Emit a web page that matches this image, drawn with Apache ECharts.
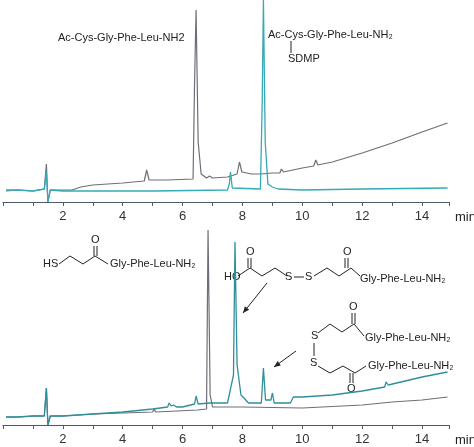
<!DOCTYPE html>
<html><head><meta charset="utf-8">
<script src="https://cdn.jsdelivr.net/npm/echarts@6/dist/echarts.min.js"></script>
<style>html,body{margin:0;background:#fff}#c{width:474px;height:447px}</style>
</head><body><div id="c"></div>
<script>
// top panel traces (time in min, signal in arbitrary units)
var topGrayT = [0.1,0.5,1.0,1.38,1.45,1.5,1.58,2,2.3,2.6,3,4,4.72,4.8,4.88,5.5,6.35,6.4,6.45,6.52,6.62,6.8,6.9,7,7.5,7.82,7.9,7.98,8.3,8.6,9,9.25,9.3,9.37,10,10.38,10.45,10.52,11,12,13,14,14.85];
var topGrayV = [11,12,11,13,38,0,12,12,12,15,17,19,21,32,22,22,23,120,192,60,28,24,26,24,25,28,40,30,28,28,29,29,33,30,34,36,42,37,40,49,59,70,79];
var topCyanT = [0.1,0.5,1.0,1.38,1.45,1.5,1.58,2,3,5,7.5,7.56,7.6,7.66,8.6,8.66,8.7,8.76,8.85,9.0,9.05,9.2,10,12,14.85];
var topCyanV = [12,12,11,13,30,0,12,11,11,11,12,18,30,14,13,100,202,60,18,15,17,13,12,13,14];
// bottom panel traces
var botGrayT = [0.1,0.5,1.0,1.38,1.45,1.5,1.58,2,3,5,5.05,5.1,6.5,6.8,6.85,6.92,7,8,10,12,13,14,14.85];
var botGrayV = [8,8,9,9,37,0,9,9,11,13,16,13,15,16,195,30,18,18,17,20,23,25,28];
var botCyanT = [0.1,0.5,1.0,1.38,1.45,1.5,1.58,2,3,4,5,5.5,5.55,5.62,5.7,5.8,6,6.4,6.45,6.52,6.9,7.5,7.7,7.75,7.82,7.95,8.05,8.2,8.63,8.7,8.77,8.95,9.0,9.06,9.6,9.7,10,11,12,12.75,12.8,12.87,14,14.85];
var botCyanV = [8,8,9,9,37,0,9,9,11,13,16,18,22,19,20,18,18,21,29,21,22,22,50,183,60,30,27,22,22,57,25,25,32,22,22,28,28,30,34,38,43,40,48,53];
var xTicks = [2,4,6,8,10,12,14];

function pairs(t, v) { return t.map(function (x, i) { return [x, v[i]]; }); }

var gray = '#6f6e78', cyan = '#35a9b6', teal = '#2f8f9a';
var sub = '\u2082';
var txt = function (x, y, s, size) {
  return { type: 'text', x: x, y: y, style: { text: s, font: (size || 11) + 'px Liberation Sans', fill: '#222', textVerticalAlign: 'middle' } };
};
var ln = function (pts) {
  return { type: 'polyline', shape: { points: pts }, style: { stroke: '#222', lineWidth: 1, fill: null } };
};
var arrow = function (x1, y1, x2, y2) {
  var a = Math.atan2(y2 - y1, x2 - x1), L = 7;
  return [ln([[x1, y1], [x2, y2]]),
    { type: 'polygon', shape: { points: [[x2, y2], [x2 - L * Math.cos(a - 0.4), y2 - L * Math.sin(a - 0.4)], [x2 - L * Math.cos(a + 0.4), y2 - L * Math.sin(a + 0.4)]] }, style: { fill: '#222' } }];
};

var xAxisBase = {
  type: 'value', min: 0, max: 14.9, interval: 1,
  axisLine: { lineStyle: { color: '#4a5a6a', width: 1.2 } },
  axisTick: { length: 4, lineStyle: { color: '#4a5a6a' } },
  splitLine: { show: false },
  axisLabel: { fontSize: 13, color: '#333', fontFamily: 'Liberation Sans', margin: 8,
    formatter: function (v) { return xTicks.indexOf(v) >= 0 ? v : ''; } }
};

var option = {
  animation: false,
  grid: [
    { left: -3, right: 25, top: 0, height: 202 },
    { left: -3, right: 25, top: 220, height: 205 }
  ],
  xAxis: [Object.assign({ gridIndex: 0 }, xAxisBase), Object.assign({ gridIndex: 1 }, xAxisBase)],
  yAxis: [
    { gridIndex: 0, type: 'value', min: 0, max: 202, show: false },
    { gridIndex: 1, type: 'value', min: 0, max: 205, show: false }
  ],
  series: [
    { type: 'line', xAxisIndex: 0, yAxisIndex: 0, data: pairs(topGrayT, topGrayV), showSymbol: false, lineStyle: { color: gray, width: 1.2 } },
    { type: 'line', xAxisIndex: 0, yAxisIndex: 0, data: pairs(topCyanT, topCyanV), showSymbol: false, lineStyle: { color: cyan, width: 1.3 } },
    { type: 'line', xAxisIndex: 1, yAxisIndex: 1, data: pairs(botGrayT, botGrayV), showSymbol: false, lineStyle: { color: gray, width: 1.2 } },
    { type: 'line', xAxisIndex: 1, yAxisIndex: 1, data: pairs(botCyanT, botCyanV), showSymbol: false, lineStyle: { color: teal, width: 1.3 } }
  ],
  graphic: [
    txt(455, 217, 'min', 13),
    txt(455, 440, 'min', 13),
    txt(58, 38, 'Ac-Cys-Gly-Phe-Leu-NH2'),
    txt(268, 35, 'Ac-Cys-Gly-Phe-Leu-NH' + sub),
    ln([[291, 41], [291, 53]]),
    txt(288, 59, 'SDMP'),
    // thiol structure
    txt(43, 264, 'HS'),
    ln([[59, 264], [70, 256], [83, 264], [95, 256], [108, 264]]),
    ln([[94, 256], [94, 246]]), ln([[97, 256], [97, 246]]),
    txt(91, 240, 'O'),
    txt(110, 264, 'Gly-Phe-Leu-NH' + sub),
    // mixed disulfide
    txt(224, 277, 'HO'),
    ln([[238, 276], [250, 268], [262, 276], [275, 268], [287, 276]]),
    ln([[248, 268], [248, 258]]), ln([[251, 268], [251, 258]]),
    txt(246, 252, 'O'),
    txt(285, 277, 'S'), ln([[294, 277], [304, 277]]), txt(305, 277, 'S'),
    ln([[314, 276], [327, 268], [339, 276], [351, 268], [360, 276]]),
    ln([[345, 268], [345, 258]]), ln([[348, 268], [348, 258]]),
    txt(343, 252, 'O'),
    txt(360, 279, 'Gly-Phe-Leu-NH' + sub),
    // symmetric disulfide
    txt(311, 336, 'S'), ln([[314, 343], [314, 356]]), txt(310, 363, 'S'),
    ln([[318, 333], [330, 324], [342, 332], [354, 324], [364, 336]]),
    ln([[352, 324], [352, 313]]), ln([[355, 324], [355, 313]]),
    txt(349, 307, 'O'),
    txt(365, 338, 'Gly-Phe-Leu-NH' + sub),
    ln([[318, 366], [330, 373], [343, 366], [355, 373], [366, 366]]),
    ln([[350, 373], [350, 383]]), ln([[353, 373], [353, 383]]),
    txt(347, 389, 'O'),
    txt(368, 366, 'Gly-Phe-Leu-NH' + sub)
  ].concat(arrow(267, 283, 243, 313), arrow(296, 351, 274, 367))
};

var chart = echarts.init(document.getElementById('c'));
chart.setOption(option);
</script></body></html>
